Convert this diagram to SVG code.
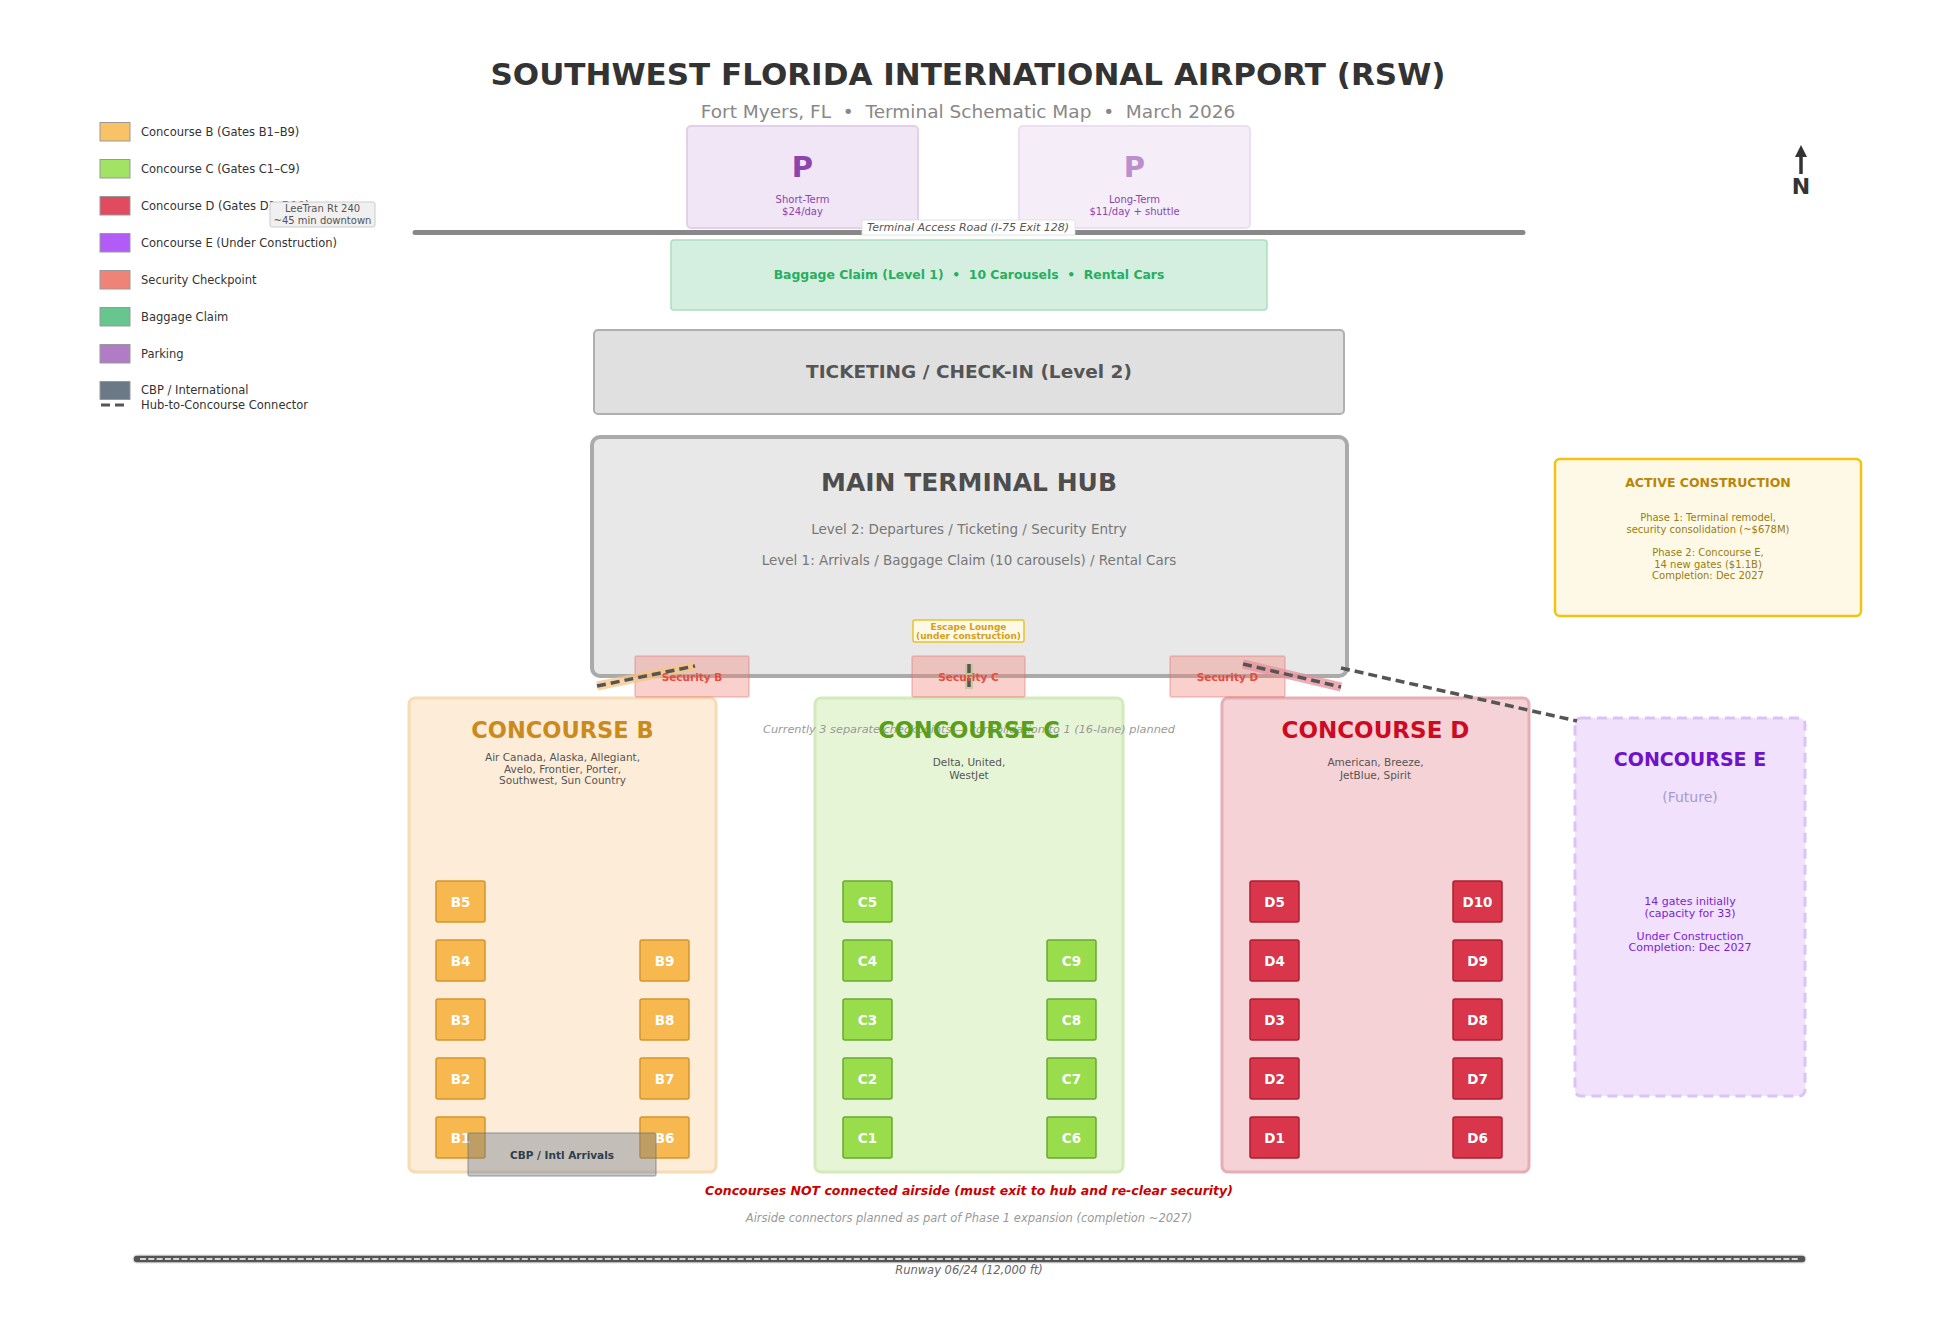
<svg xmlns="http://www.w3.org/2000/svg" width="1937" height="1322" viewBox="0 0 1937 1322">
<style>
text{font-family:"DejaVu Sans","Liberation Sans",sans-serif;}
.c{text-anchor:middle;dominant-baseline:central;}
.b{font-weight:bold;}
.i{font-style:italic;}
.pre{white-space:pre;}
.leg{font-size:11.5px;fill:#333;dominant-baseline:central;}
.sw{stroke:#999;stroke-width:1;}
.gateB{fill:#f6b84f;stroke:#d4952c;stroke-width:1.5;}
.gateC{fill:#99dc4c;stroke:#6aa832;stroke-width:1.5;}
.gateD{fill:#d9354b;stroke:#ad1f30;stroke-width:1.5;}
.gt{font-size:13.5px;font-weight:bold;fill:#fff;text-anchor:middle;dominant-baseline:central;}
.sec{fill:rgba(239,131,119,0.38);stroke:rgba(220,100,100,0.35);stroke-width:1.5;}
.sect{font-size:10.5px;font-weight:bold;fill:#e74c3c;text-anchor:middle;dominant-baseline:central;}
.dash{stroke:#555;stroke-width:3.5;stroke-dasharray:9,5;fill:none;}
.air{font-size:10.5px;fill:#555;text-anchor:middle;dominant-baseline:central;}
</style>

<!-- Title -->
<g id="title">
<text x="968" y="74" class="c b" font-size="31" fill="#333">SOUTHWEST FLORIDA INTERNATIONAL AIRPORT (RSW)</text>
<text x="968" y="111" class="c pre" font-size="18.5" fill="#888">Fort Myers, FL  •  Terminal Schematic Map  •  March 2026</text>
</g>

<!-- Legend -->
<g id="legend">
<rect x="100" y="122.5" width="30" height="18.5" class="sw" fill="#f8c266"/>
<text x="141" y="131.5" class="leg">Concourse B (Gates B1–B9)</text>
<rect x="100" y="159.5" width="30" height="18.5" class="sw" fill="#a2e264"/>
<text x="141" y="168.5" class="leg">Concourse C (Gates C1–C9)</text>
<rect x="100" y="196.5" width="30" height="18.5" class="sw" fill="#e04b60"/>
<text x="141" y="205.5" class="leg">Concourse D (Gates D1–D10)</text>
<rect x="100" y="233.5" width="30" height="18.5" class="sw" fill="#b25cf8"/>
<text x="141" y="242.5" class="leg">Concourse E (Under Construction)</text>
<rect x="100" y="270.5" width="30" height="18.5" class="sw" fill="#ef8377"/>
<text x="141" y="279.5" class="leg">Security Checkpoint</text>
<rect x="100" y="307.5" width="30" height="18.5" class="sw" fill="#66c68e"/>
<text x="141" y="316.5" class="leg">Baggage Claim</text>
<rect x="100" y="344.5" width="30" height="18.5" class="sw" fill="#b07cc6"/>
<text x="141" y="353.5" class="leg">Parking</text>
<rect x="100" y="381.5" width="30" height="18" class="sw" fill="#6b7886"/>
<text x="141" y="389.5" class="leg">CBP / International</text>
<line x1="101" y1="405" x2="129" y2="405" stroke="#555" stroke-width="3" stroke-dasharray="9,5"/>
<text x="141" y="404.5" class="leg">Hub-to-Concourse Connector</text>
</g>

<!-- North arrow -->
<g id="north">
<line x1="1801" y1="174" x2="1801" y2="154" stroke="#333" stroke-width="3.5"/>
<polygon points="1801,145 1795,157 1807,157" fill="#333"/>
<text x="1801" y="186" class="c b" font-size="22" fill="#333">N</text>
</g>

<!-- Road -->
<g id="road">
<line x1="415" y1="232.5" x2="1523" y2="232.5" stroke="#888" stroke-width="5" stroke-linecap="round"/>
</g>

<!-- Parking -->
<g id="parking-short">
<rect x="687" y="126" width="231" height="102" rx="4" fill="#f0e6f5" stroke="#e2d0ea" stroke-width="2"/>
<text x="802.5" y="167" class="c b" font-size="29" fill="#8e44ad">P</text>
<text x="802.5" y="199" class="c" font-size="10" fill="#8e44ad">Short-Term</text>
<text x="802.5" y="211" class="c" font-size="10" fill="#8e44ad">$24/day</text>
</g>
<g id="parking-long">
<rect x="1019" y="126" width="231" height="102" rx="4" fill="#f5eef8" stroke="#ecdff2" stroke-width="2"/>
<text x="1134.5" y="167" class="c b" font-size="29" fill="#bb8fce">P</text>
<text x="1134.5" y="199" class="c" font-size="10" fill="#8e44ad">Long-Term</text>
<text x="1134.5" y="211" class="c" font-size="10" fill="#8e44ad">$11/day + shuttle</text>
</g>

<g id="road-label">
<rect x="862" y="220" width="213" height="15" fill="#fff" stroke="#ddd" stroke-width="0.8"/>
<text x="968" y="227.5" class="c i" font-size="11" fill="#555">Terminal Access Road (I-75 Exit 128)</text>
</g>

<g id="leetran">
<rect x="270" y="202" width="105" height="25" rx="2" fill="#f0f0f0" stroke="#ccc" stroke-width="1"/>
<text x="322.5" y="208.5" class="c" font-size="10" fill="#555">LeeTran Rt 240</text>
<text x="322.5" y="220.5" class="c" font-size="10" fill="#555">~45 min downtown</text>
</g>

<!-- Baggage -->
<g id="baggage">
<rect x="671" y="240" width="596" height="70" rx="3" fill="#d4efdf" stroke="#a9dfbf" stroke-width="1.5"/>
<text x="969" y="274" class="c b pre" font-size="12.4" fill="#27ae60">Baggage Claim (Level 1)  •  10 Carousels  •  Rental Cars</text>
</g>

<!-- Ticketing -->
<g id="ticketing">
<rect x="594" y="330" width="750" height="84" rx="4" fill="#e0e0e0" stroke="#b0b0b0" stroke-width="2"/>
<text x="969" y="371" class="c b" font-size="18.5" fill="#555">TICKETING / CHECK-IN (Level 2)</text>
</g>

<!-- Hub -->
<g id="hub">
<rect x="592" y="437" width="755" height="239" rx="8" fill="#e8e8e8" stroke="#aaa" stroke-width="4"/>
<text x="969" y="482" class="c b" font-size="25" fill="#4d4d4d">MAIN TERMINAL HUB</text>
<text x="969" y="528.5" class="c" font-size="13.5" fill="#777">Level 2: Departures / Ticketing / Security Entry</text>
<text x="969" y="559.5" class="c" font-size="13.5" fill="#777">Level 1: Arrivals / Baggage Claim (10 carousels) / Rental Cars</text>
</g>

<g id="escape-lounge">
<rect x="913" y="620" width="111" height="22" rx="2" fill="#fef9e7" stroke="#e6c229" stroke-width="1.5"/>
<text x="968.5" y="626.5" class="c b" font-size="9" fill="#d4a017">Escape Lounge</text>
<text x="968.5" y="636" class="c b" font-size="9" fill="#d4a017">(under construction)</text>
</g>

<!-- Concourse B -->
<g id="concourse-b">
<rect x="409" y="698" width="307" height="474" rx="6" fill="#fdedd8" stroke="#f6dbb4" stroke-width="3"/>
<text x="562.5" y="730" class="c b" font-size="22.5" fill="#ca8a1e">CONCOURSE B</text>
<text x="562.5" y="756.5" class="air">Air Canada, Alaska, Allegiant,</text>
<text x="562.5" y="768.5" class="air">Avelo, Frontier, Porter,</text>
<text x="562.5" y="780" class="air">Southwest, Sun Country</text>
</g>
<g id="gate-B5"><rect x="436" y="881" width="49" height="41" rx="2" class="gateB"/><text x="460.5" y="901.5" class="gt">B5</text></g>
<g id="gate-B4"><rect x="436" y="940" width="49" height="41" rx="2" class="gateB"/><text x="460.5" y="960.5" class="gt">B4</text></g>
<g id="gate-B3"><rect x="436" y="999" width="49" height="41" rx="2" class="gateB"/><text x="460.5" y="1019.5" class="gt">B3</text></g>
<g id="gate-B2"><rect x="436" y="1058" width="49" height="41" rx="2" class="gateB"/><text x="460.5" y="1078.5" class="gt">B2</text></g>
<g id="gate-B1"><rect x="436" y="1117" width="49" height="41" rx="2" class="gateB"/><text x="460.5" y="1137.5" class="gt">B1</text></g>
<g id="gate-B9"><rect x="640" y="940" width="49" height="41" rx="2" class="gateB"/><text x="664.5" y="960.5" class="gt">B9</text></g>
<g id="gate-B8"><rect x="640" y="999" width="49" height="41" rx="2" class="gateB"/><text x="664.5" y="1019.5" class="gt">B8</text></g>
<g id="gate-B7"><rect x="640" y="1058" width="49" height="41" rx="2" class="gateB"/><text x="664.5" y="1078.5" class="gt">B7</text></g>
<g id="gate-B6"><rect x="640" y="1117" width="49" height="41" rx="2" class="gateB"/><text x="664.5" y="1137.5" class="gt">B6</text></g>

<!-- Concourse C -->
<g id="concourse-c">
<rect x="815" y="698" width="308" height="474" rx="6" fill="#e7f5d7" stroke="#d3eabd" stroke-width="3"/>
<text x="969" y="729" class="c i" font-size="11.3" fill="#999">Currently 3 separate checkpoints — consolidation to 1 (16-lane) planned</text>
<text x="969" y="730" class="c b" font-size="22.5" fill="#5a9e1a">CONCOURSE C</text>
<text x="969" y="762" class="air">Delta, United,</text>
<text x="969" y="774.5" class="air">WestJet</text>
</g>
<g id="gate-C5"><rect x="843" y="881" width="49" height="41" rx="2" class="gateC"/><text x="867.5" y="901.5" class="gt">C5</text></g>
<g id="gate-C4"><rect x="843" y="940" width="49" height="41" rx="2" class="gateC"/><text x="867.5" y="960.5" class="gt">C4</text></g>
<g id="gate-C3"><rect x="843" y="999" width="49" height="41" rx="2" class="gateC"/><text x="867.5" y="1019.5" class="gt">C3</text></g>
<g id="gate-C2"><rect x="843" y="1058" width="49" height="41" rx="2" class="gateC"/><text x="867.5" y="1078.5" class="gt">C2</text></g>
<g id="gate-C1"><rect x="843" y="1117" width="49" height="41" rx="2" class="gateC"/><text x="867.5" y="1137.5" class="gt">C1</text></g>
<g id="gate-C9"><rect x="1047" y="940" width="49" height="41" rx="2" class="gateC"/><text x="1071.5" y="960.5" class="gt">C9</text></g>
<g id="gate-C8"><rect x="1047" y="999" width="49" height="41" rx="2" class="gateC"/><text x="1071.5" y="1019.5" class="gt">C8</text></g>
<g id="gate-C7"><rect x="1047" y="1058" width="49" height="41" rx="2" class="gateC"/><text x="1071.5" y="1078.5" class="gt">C7</text></g>
<g id="gate-C6"><rect x="1047" y="1117" width="49" height="41" rx="2" class="gateC"/><text x="1071.5" y="1137.5" class="gt">C6</text></g>

<!-- Concourse D -->
<g id="concourse-d">
<rect x="1222" y="698" width="307" height="474" rx="6" fill="#f5d2d6" stroke="#e6adb4" stroke-width="3"/>
<text x="1375.5" y="730" class="c b" font-size="23" fill="#cc0a22">CONCOURSE D</text>
<text x="1375.5" y="762" class="air">American, Breeze,</text>
<text x="1375.5" y="774.5" class="air">JetBlue, Spirit</text>
</g>
<g id="gate-D5"><rect x="1250" y="881" width="49" height="41" rx="2" class="gateD"/><text x="1274.5" y="901.5" class="gt">D5</text></g>
<g id="gate-D4"><rect x="1250" y="940" width="49" height="41" rx="2" class="gateD"/><text x="1274.5" y="960.5" class="gt">D4</text></g>
<g id="gate-D3"><rect x="1250" y="999" width="49" height="41" rx="2" class="gateD"/><text x="1274.5" y="1019.5" class="gt">D3</text></g>
<g id="gate-D2"><rect x="1250" y="1058" width="49" height="41" rx="2" class="gateD"/><text x="1274.5" y="1078.5" class="gt">D2</text></g>
<g id="gate-D1"><rect x="1250" y="1117" width="49" height="41" rx="2" class="gateD"/><text x="1274.5" y="1137.5" class="gt">D1</text></g>
<g id="gate-D10"><rect x="1453" y="881" width="49" height="41" rx="2" class="gateD"/><text x="1477.5" y="901.5" class="gt">D10</text></g>
<g id="gate-D9"><rect x="1453" y="940" width="49" height="41" rx="2" class="gateD"/><text x="1477.5" y="960.5" class="gt">D9</text></g>
<g id="gate-D8"><rect x="1453" y="999" width="49" height="41" rx="2" class="gateD"/><text x="1477.5" y="1019.5" class="gt">D8</text></g>
<g id="gate-D7"><rect x="1453" y="1058" width="49" height="41" rx="2" class="gateD"/><text x="1477.5" y="1078.5" class="gt">D7</text></g>
<g id="gate-D6"><rect x="1453" y="1117" width="49" height="41" rx="2" class="gateD"/><text x="1477.5" y="1137.5" class="gt">D6</text></g>

<!-- Concourse E -->
<g id="concourse-e">
<rect x="1575" y="718" width="230" height="378" rx="6" fill="#f1e1fc" stroke="#dcc3f5" stroke-width="3" stroke-dasharray="10,6"/>
<text x="1690" y="758.5" class="c b" font-size="19" fill="#6f12c9">CONCOURSE E</text>
<text x="1690" y="797" class="c" font-size="14" fill="#a49ad2">(Future)</text>
<text x="1690" y="901.5" class="c" font-size="11" fill="#7a1fd0">14 gates initially</text>
<text x="1690" y="913" class="c" font-size="11" fill="#7a1fd0">(capacity for 33)</text>
<text x="1690" y="936" class="c" font-size="11" fill="#7a1fd0">Under Construction</text>
<text x="1690" y="947.5" class="c" font-size="11" fill="#7a1fd0">Completion: Dec 2027</text>
</g>

<!-- Security checkpoints -->
<g id="security-b"><rect x="635" y="656" width="114" height="41" rx="2" class="sec"/></g>
<g id="security-c"><rect x="912" y="656" width="113" height="41" rx="2" class="sec"/></g>
<g id="security-d"><rect x="1170" y="656" width="115" height="41" rx="2" class="sec"/></g>

<!-- Connectors -->
<g id="connectors">
<line x1="597" y1="686" x2="695" y2="666" stroke="#f5c585" stroke-opacity="0.75" stroke-width="9"/>
<line x1="597" y1="686" x2="695" y2="666" class="dash"/>
<line x1="969" y1="664" x2="969" y2="689" stroke="#c2c68e" stroke-opacity="0.8" stroke-width="8"/>
<line x1="969" y1="664" x2="969" y2="689" class="dash"/>
<line x1="1243" y1="664" x2="1341" y2="687" stroke="#e8909c" stroke-opacity="0.75" stroke-width="9"/>
<line x1="1243" y1="664" x2="1341" y2="687" class="dash"/>
<line x1="1341" y1="668" x2="1577" y2="721" class="dash"/>
</g>

<g id="security-labels">
<text x="692" y="676.5" class="sect">Security B</text>
<text x="968.5" y="676.5" class="sect">Security C</text>
<text x="1227.5" y="676.5" class="sect">Security D</text>
</g>

<!-- CBP -->
<g id="cbp">
<rect x="468" y="1133" width="188" height="43" rx="2" fill="#6b7886" fill-opacity="0.4" stroke="#6b7886" stroke-opacity="0.5" stroke-width="1.5"/>
<text x="562" y="1154.5" class="c b" font-size="10.5" fill="#2c3e50">CBP / Intl Arrivals</text>
</g>

<!-- Notes -->
<g id="notes">
<text x="969" y="1190" class="c b i" font-size="12.5" fill="#cc0000">Concourses NOT connected airside (must exit to hub and re-clear security)</text>
<text x="969" y="1218" class="c i" font-size="11.5" fill="#999">Airside connectors planned as part of Phase 1 expansion (completion ~2027)</text>
</g>

<!-- Construction box -->
<g id="active-construction">
<rect x="1555" y="459" width="306" height="157" rx="5" fill="#fef9e7" stroke="#f1c40f" stroke-width="2.5"/>
<text x="1708" y="482" class="c b" font-size="12.5" fill="#b7860b">ACTIVE CONSTRUCTION</text>
<text x="1708" y="517.5" class="c" font-size="10" fill="#9a7d0a">Phase 1: Terminal remodel,</text>
<text x="1708" y="529.5" class="c" font-size="10" fill="#9a7d0a">security consolidation (~$678M)</text>
<text x="1708" y="552.5" class="c" font-size="10" fill="#9a7d0a">Phase 2: Concourse E,</text>
<text x="1708" y="564" class="c" font-size="10" fill="#9a7d0a">14 new gates ($1.1B)</text>
<text x="1708" y="575.5" class="c" font-size="10" fill="#9a7d0a">Completion: Dec 2027</text>
</g>

<!-- Runway -->
<g id="runway">
<line x1="137" y1="1259" x2="1802" y2="1259" stroke="#ddd" stroke-width="9" stroke-linecap="round"/>
<line x1="137" y1="1259" x2="1802" y2="1259" stroke="#555" stroke-width="6.5" stroke-linecap="round"/>
<line x1="140" y1="1259" x2="1799" y2="1259" stroke="#fff" stroke-width="1.6" stroke-dasharray="6,2.3"/>
<text x="969" y="1269.5" class="c i" font-size="11.5" fill="#666">Runway 06/24 (12,000 ft)</text>
</g>
</svg>
